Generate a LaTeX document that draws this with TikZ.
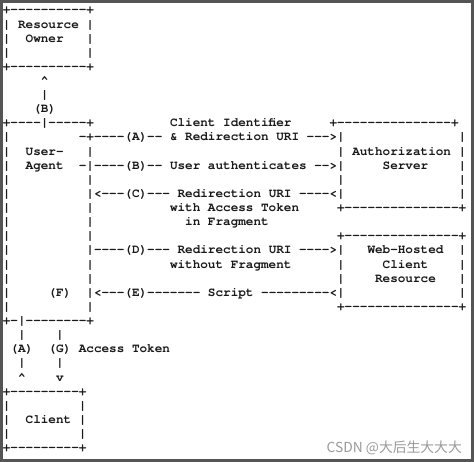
\documentclass[tikz,border=0pt]{standalone}
\usepackage{fontspec}
\setmonofont{TeX Gyre Cursor}
\newfontfamily\cjk{Noto Sans CJK SC}
\definecolor{framegray}{HTML}{555555}
\definecolor{wmgray}{HTML}{9A9A9A}
\definecolor{inkgray}{HTML}{1A1A1A}
\tikzset{
  asc/.style={anchor=base west, inner sep=0pt, outer sep=0pt,
    font=\ttfamily\bfseries\fontsize{12.66}{14.13}\selectfont, text=inkgray},
  wmark/.style={anchor=east, inner sep=0pt, font=\cjk\fontsize{13.8}{15}\selectfont, text=wmgray}
}
\newcommand\ascline[3]{\node[asc] (#1) at (2.9, {448.1-14.12*#2}) {#3};}
\begin{document}
\begin{tikzpicture}[x=1pt,y=1pt]
\fill[framegray] (0,0) rectangle (474,462);
\fill[white] (2.6,2.7) rectangle (471,459.3);
\useasboundingbox (0,0) rectangle (474,462);
\ascline{l0}{0}{+----------+}
\ascline{l1}{1}{|~Resource~|}
\ascline{l2}{2}{|~~Owner~~~|}
\ascline{l3}{3}{|~~~~~~~~~~|}
\ascline{l4}{4}{+----------+}
\ascline{l5}{5}{~~~~~\textasciicircum}
\ascline{l6}{6}{~~~~~|}
\ascline{l7}{7}{~~~~(B)}
\ascline{l8}{8}{+----|-----+~~~~~~~~~~Client~Identifier~~~~~+---------------+}
\ascline{l9}{9}{|~~~~~~~~~-+----(A)--~\&~Redirection~URI~--->|~~~~~~~~~~~~~~~|}
\ascline{l10}{10}{|~~User-~~~|~~~~~~~~~~~~~~~~~~~~~~~~~~~~~~~~|~Authorization~|}
\ascline{l11}{11}{|~~Agent~~-|----(B)--~User~authenticates~-->|~~~~~Server~~~~|}
\ascline{l12}{12}{|~~~~~~~~~~|~~~~~~~~~~~~~~~~~~~~~~~~~~~~~~~~|~~~~~~~~~~~~~~~|}
\ascline{l13}{13}{|~~~~~~~~~~|<---(C)---~Redirection~URI~----<|~~~~~~~~~~~~~~~|}
\ascline{l14}{14}{|~~~~~~~~~~|~~~~~~~~~~with~Access~Token~~~~~+---------------+}
\ascline{l15}{15}{|~~~~~~~~~~|~~~~~~~~~~~~in~Fragment}
\ascline{l16}{16}{|~~~~~~~~~~|~~~~~~~~~~~~~~~~~~~~~~~~~~~~~~~~+---------------+}
\ascline{l17}{17}{|~~~~~~~~~~|----(D)---~Redirection~URI~---->|~~~Web-Hosted~~|}
\ascline{l18}{18}{|~~~~~~~~~~|~~~~~~~~~~without~Fragment~~~~~~|~~~~~Client~~~~|}
\ascline{l19}{19}{|~~~~~~~~~~|~~~~~~~~~~~~~~~~~~~~~~~~~~~~~~~~|~~~~Resource~~~|}
\ascline{l20}{20}{|~~~~~(F)~~|<---(E)-------~Script~---------<|~~~~~~~~~~~~~~~|}
\ascline{l21}{21}{|~~~~~~~~~~|~~~~~~~~~~~~~~~~~~~~~~~~~~~~~~~~+---------------+}
\ascline{l22}{22}{+-|--------+}
\ascline{l23}{23}{~~|~~~~|}
\ascline{l24}{24}{~(A)~~(G)~Access~Token}
\ascline{l25}{25}{~~|~~~~|}
\ascline{l26}{26}{~~\textasciicircum~~~~v}
\ascline{l27}{27}{+---------+}
\ascline{l28}{28}{|~~~~~~~~~|}
\ascline{l29}{29}{|~~Client~|}
\ascline{l30}{30}{|~~~~~~~~~|}
\ascline{l31}{31}{+---------+}
\node[wmark] (wm) at (462,14) {CSDN @大后生大大大};
\end{tikzpicture}
\end{document}
